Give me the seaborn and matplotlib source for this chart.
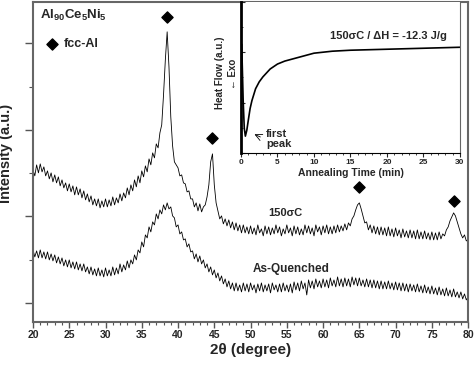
import numpy as np
import pandas as pd
import matplotlib
matplotlib.use("Agg")
import matplotlib.pyplot as plt
import seaborn as sns
from matplotlib.ticker import MultipleLocator

# ---------------- data ----------------
two_theta = np.arange(20, 80.001, 0.25)

int_150C = [
    152, 146, 157, 149, 158, 150, 155, 146, 151, 143, 149, 140,
    147, 139, 145, 136, 142, 134, 139, 131, 138, 130, 136, 127,
    135, 127, 133, 124, 131, 122, 128, 120, 126, 117, 123, 116,
    123, 114, 121, 115, 123, 115, 122, 116, 125, 117, 124, 119,
    128, 121, 129, 124, 134, 127, 137, 131, 142, 135, 146, 139,
    151, 145, 156, 150, 163, 157, 169, 164, 178, 174, 189, 197,
    227, 262, 290, 255, 205, 176, 160, 157, 154, 146, 147, 139,
    138, 130, 131, 123, 123, 115, 119, 111, 118, 110, 115, 117,
    125, 137, 160, 168, 137, 119, 111, 103, 106, 98, 103, 96,
    102, 94, 100, 92, 99, 91, 97, 89, 97, 89, 95, 88,
    96, 88, 94, 87, 97, 89, 93, 86, 96, 88, 95, 87,
    94, 88, 97, 89, 95, 86, 93, 88, 97, 89, 94, 86,
    96, 88, 95, 87, 93, 87, 97, 89, 96, 88, 94, 86,
    97, 90, 95, 87, 96, 89, 97, 88, 95, 88, 96, 89,
    97, 90, 96, 91, 98, 92, 99, 96, 103, 106, 112, 117,
    119, 113, 106, 99, 100, 92, 97, 89, 96, 88, 95, 87,
    95, 87, 94, 86, 95, 86, 93, 85, 94, 86, 92, 84,
    93, 85, 91, 84, 92, 84, 91, 83, 92, 83, 90, 83,
    91, 83, 89, 82, 90, 82, 89, 82, 90, 83, 88, 86,
    92, 95, 101, 105, 109, 106, 100, 94, 88, 84, 87, 81,
    82,
]

int_quenched = [
    72, 65, 71, 64, 72, 64, 70, 63, 70, 62, 68, 61,
    67, 59, 65, 58, 64, 56, 62, 55, 62, 54, 60, 53,
    60, 52, 58, 51, 58, 50, 55, 48, 55, 47, 53, 46,
    54, 46, 52, 45, 54, 46, 52, 46, 55, 47, 54, 48,
    58, 50, 57, 52, 61, 54, 62, 58, 67, 62, 72, 69,
    80, 75, 87, 84, 95, 90, 100, 97, 108, 103, 112, 108,
    117, 112, 119, 113, 115, 106, 104, 95, 97, 88, 90, 82,
    83, 75, 78, 70, 71, 63, 68, 60, 66, 58, 62, 54,
    58, 50, 55, 47, 52, 44, 49, 41, 46, 38, 43, 35,
    41, 33, 39, 31, 39, 31, 37, 30, 39, 31, 38, 30,
    39, 32, 37, 29, 38, 31, 39, 30, 37, 31, 38, 29,
    39, 32, 37, 30, 38, 30, 39, 31, 37, 30, 38, 29,
    40, 32, 39, 31, 41, 33, 39, 27, 42, 34, 41, 33,
    43, 35, 41, 34, 43, 35, 42, 34, 44, 36, 42, 35,
    45, 36, 43, 35, 44, 36, 43, 35, 45, 37, 44, 36,
    44, 36, 42, 35, 43, 35, 42, 34, 42, 34, 41, 33,
    41, 33, 40, 33, 41, 33, 39, 32, 40, 32, 39, 31,
    39, 31, 38, 30, 38, 31, 37, 30, 38, 30, 36, 29,
    37, 29, 35, 28, 36, 28, 34, 27, 35, 27, 33, 26,
    34, 26, 32, 25, 33, 25, 30, 24, 30, 23, 28, 22,
    25,
]

peak_2theta = [38.5, 44.65, 65.0, 78.1]
peak_mark_height = [305, 184, 135, 121]

anneal_time = [0.0, 0.1, 0.3, 0.45, 0.6, 0.8, 1.0, 1.25, 1.5, 2.0, 2.5,
               3.0, 4.0, 5.0, 6.0, 7.5, 10.0, 12.5, 15.0, 20.0, 25.0, 30.0]
heat_flow = [110, 110, 53, 25, 17, 23, 33, 45, 53, 65, 72,
             77, 85, 90, 93, 96, 101, 103, 104, 105, 106, 107]

x_ticks = [20, 25, 30, 35, 40, 45, 50, 55, 60, 65, 70, 75, 80]
inset_ticks = [0, 5, 10, 15, 20, 25, 30]

# ---------------- style ----------------
sns.set_theme(style="ticks")
plt.rcParams['font.family'] = ['Liberation Sans', 'DejaVu Sans']
plt.rcParams['font.weight'] = 'bold'
plt.rcParams['mathtext.fontset'] = 'custom'
plt.rcParams['mathtext.rm'] = 'Liberation Sans:bold'
plt.rcParams['mathtext.bf'] = 'Liberation Sans:bold'

fig = plt.figure(figsize=(4.74, 3.65), dpi=100)
ax = fig.add_axes([0.0696, 0.118, 0.918, 0.877])

df_xrd = pd.DataFrame({"two_theta": np.concatenate([two_theta, two_theta]),
                       "intensity": int_150C + int_quenched,
                       "sample": ["150C"] * len(two_theta) + ["AQ"] * len(two_theta)})
sns.lineplot(data=df_xrd, x="two_theta", y="intensity", units="sample",
             estimator=None, color="black", lw=0.6, ax=ax, legend=False)

ax.set_xlim(20, 80)
ax.set_ylim(0, 320)
ax.set_xticks(x_ticks)
ax.xaxis.set_minor_locator(MultipleLocator(1))
ax.set_yticks([19, 105.5, 192, 278.5])
ax.set_yticks([62, 149, 235], minor=True)
ax.set_yticklabels([])
ax.tick_params(axis='x', which='major', length=4, width=1, pad=2, labelsize=7.5, color='#555555')
ax.tick_params(axis='x', which='minor', length=2, width=0.8, color='#555555')
ax.tick_params(axis='y', which='major', length=6, width=1, color='#555555')
ax.tick_params(axis='y', which='minor', length=3, width=0.8, color='#555555')
for lab in ax.get_xticklabels():
    lab.set_fontweight('bold')
for sp in ax.spines.values():
    sp.set_visible(True)
    sp.set_color('#666666')
    sp.set_linewidth(1.5)

ax.set_xlabel("2θ (degree)", fontsize=11, fontweight='bold', labelpad=2)
ax.set_ylabel("Intensity (a.u.)", fontsize=10.5, fontweight='bold')
ax.yaxis.set_label_coords(-0.046, 0.525)

# peak markers
ax.scatter(peak_2theta, peak_mark_height, marker='D', s=32, color='black', zorder=5)
# legend-like label
ax.scatter([22.6], [278], marker='D', s=32, color='black', zorder=5)
ax.text(24.3, 278, "fcc-Al", fontsize=9, fontweight='bold', va='center', ha='left')
ax.text(20.9, 306, r"Al$_{90}$Ce$_5$Ni$_5$", fontsize=9.5, fontweight='bold', va='center', ha='left')

ax.text(52.4, 109, "150σC", fontsize=8, fontweight='bold', va='center', ha='left')
ax.text(50.3, 53, "As-Quenched", fontsize=8.5, fontweight='bold', va='center', ha='left')

# ---------------- inset ----------------
ins = fig.add_axes([0.5084, 0.581, 0.462, 0.414])
sns.lineplot(x=anneal_time, y=heat_flow, color='black', lw=1.2, ax=ins, estimator=None)
ins.set_xlim(0, 30)
ins.set_ylim(0, 153)
ins.set_xticks(inset_ticks)
ins.xaxis.set_minor_locator(MultipleLocator(1))
ins.set_yticks([0, 51, 102, 153])
ins.set_yticks([25.5, 76.5, 127.5], minor=True)
ins.set_yticklabels([])
ins.tick_params(axis='x', which='major', length=3, width=0.8, pad=1.5, labelsize=6, direction='out')
ins.tick_params(axis='x', which='minor', length=1.5, width=0.6, direction='out')
ins.tick_params(axis='y', which='major', length=3, width=0.8, direction='in')
ins.tick_params(axis='y', which='minor', length=1.5, width=0.6, direction='in')
for sp in ins.spines.values():
    sp.set_visible(True)
    sp.set_color('black')
    sp.set_linewidth(0.8)
ins.spines['left'].set_linewidth(2)
ins.spines['top'].set_visible(False)
ins.spines['right'].set_color('#666666')
ins.set_xlabel("Annealing Time (min)", fontsize=7.5, fontweight='bold', labelpad=1)
ins.set_ylabel("")
ins.text(-0.096, 0.53, "Heat Flow (a.u.)", transform=ins.transAxes, rotation=90,
         fontsize=7, fontweight='bold', va='center', ha='center')
ins.text(-0.037, 0.52, "← Exo", transform=ins.transAxes, rotation=90,
         fontsize=7, fontweight='bold', va='center', ha='center')
ins.text(12.2, 118, "150σC / ΔH = -12.3 J/g", fontsize=8, fontweight='bold', va='center', ha='left')
ins.text(3.4, 14, "first\npeak", fontsize=8, fontweight='bold', va='center', ha='left', linespacing=0.95)
ins.annotate("", xy=(1.5, 20), xytext=(3.0, 15),
             arrowprops=dict(arrowstyle='->', color='black', lw=0.6))

fig.savefig("out.png", dpi=100)
